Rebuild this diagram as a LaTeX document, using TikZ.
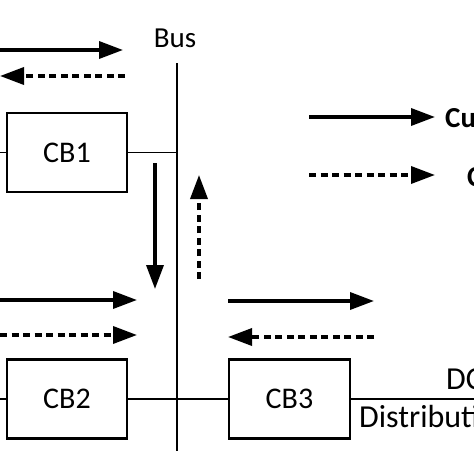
\documentclass[tikz,border=0pt]{standalone}
\usepackage{fontspec}
\setmainfont{Carlito}
\usetikzlibrary{arrows.meta}
\begin{document}
\begin{tikzpicture}[x=1pt,y=-1pt,
  cbbox/.style={draw,line width=2.3pt,minimum width=120pt,minimum height=79pt,inner sep=0pt,font=\fontsize{30}{34}\selectfont},
  wire/.style={line width=1.6pt},
  busline/.style={line width=2.3pt},
  flow/.style={line width=3.5pt,-{Triangle[length=24pt,width=17pt]}},
  sig/.style={flow,dash pattern=on 7pt off 4.5pt},
  lbl/.style={inner sep=0pt,font=\fontsize{32}{36}\selectfont},
  lgd/.style={inner sep=0pt,anchor=west,font=\bfseries\fontsize{29}{33}\selectfont}]
\useasboundingbox (0,0) rectangle (474,474);
% bus
\coordinate (btop) at (177,63);
\coordinate (bbot) at (177,451);
\draw[busline] (btop) -- (bbot);
\node[inner sep=0pt,font=\fontsize{29}{33}\selectfont] (buslbl) at (175,38) {Bus};
% boxes
\node[cbbox] (cb1) at (67,152.5) {CB1};
\node[cbbox] (cb2) at (67,399) {CB2};
\node[cbbox,minimum width=121pt] (cb3) at (289.5,399) {CB3};
% wires
\coordinate (l1) at (0,152.5);
\coordinate (l2) at (0,399);
\coordinate (b1) at (177,152.5);
\coordinate (b2) at (177,399);
\coordinate (rr) at (474,399);
\draw[wire] (l1) -- (cb1.west);
\draw[wire] (cb1.east) -- (b1);
\draw[wire] (l2) -- (cb2.west);
\draw[wire] (cb2.east) -- (b2) -- (cb3.west);
\draw[wire] (cb3.east) -- (rr);
\node[lbl,anchor=west] (dc) at (446,379) {DC};
\node[lbl,anchor=west] (dist) at (359,417) {Distribution};
% top-left arrows
\coordinate (a1s) at (0,50);   \coordinate (a1e) at (123,50);
\coordinate (a2s) at (125,76); \coordinate (a2e) at (0,76);
\draw[flow] (a1s) -- (a1e);
\draw[sig] (a2s) -- (a2e);
% vertical arrows
\coordinate (v1s) at (155,163); \coordinate (v1e) at (155,289);
\coordinate (v2s) at (199,279); \coordinate (v2e) at (199,175);
\draw[flow] (v1s) -- (v1e);
\draw[sig] (v2s) -- (v2e);
% middle-left arrows
\coordinate (m1s) at (0,300); \coordinate (m1e) at (137,300);
\coordinate (m2s) at (0,335); \coordinate (m2e) at (137,335);
\draw[flow] (m1s) -- (m1e);
\draw[sig] (m2s) -- (m2e);
% right arrows
\coordinate (r1s) at (228,301); \coordinate (r1e) at (374,301);
\coordinate (r2s) at (374,337); \coordinate (r2e) at (228,337);
\draw[flow] (r1s) -- (r1e);
\draw[sig] (r2s) -- (r2e);
% legend
\coordinate (g1s) at (309,117); \coordinate (g1e) at (435,117);
\coordinate (g2s) at (309,175); \coordinate (g2e) at (435,175);
\draw[flow] (g1s) -- (g1e);
\draw[sig] (g2s) -- (g2e);
\node[lgd] (lg1) at (445,118) {Current};
\node[lgd] (lg2) at (467,176) {Control};
\end{tikzpicture}
\end{document}
